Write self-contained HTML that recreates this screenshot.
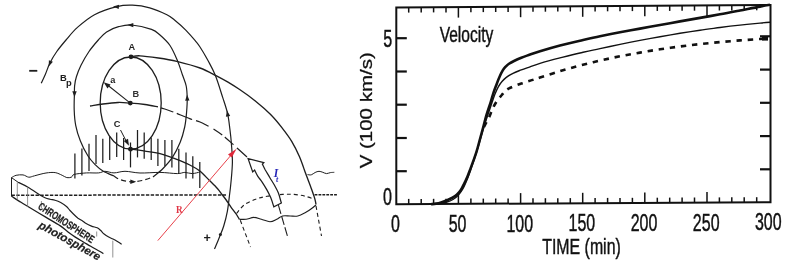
<!DOCTYPE html>
<html><head><meta charset="utf-8"><title>Figure</title>
<style>
html,body{margin:0;padding:0;background:#fff;}
body{width:785px;height:261px;overflow:hidden;}
svg{display:block;}
</style></head>
<body>
<svg width="785" height="261" viewBox="0 0 785 261">
<rect width="785" height="261" fill="#fff"/>
<path d="M214.5,249.0 C215.5,246.7 218.8,238.9 220.3,235.0 C221.9,231.1 222.6,229.6 223.8,225.7 C225.0,221.8 226.4,216.6 227.3,211.7 C228.2,206.8 228.8,201.3 229.4,196.0 C230.1,190.7 230.7,185.6 231.2,180.0 C231.7,174.4 232.3,168.2 232.4,162.4 C232.5,156.6 231.9,150.4 231.5,145.0 C231.1,139.6 230.7,135.2 230.0,130.0 C229.3,124.8 228.8,119.0 227.6,113.7 C226.4,108.4 225.1,104.8 223.0,98.4 C220.9,92.0 217.9,81.7 215.3,75.3 C212.8,68.9 210.2,64.7 207.7,60.0 C205.1,55.3 202.1,50.2 200.0,47.0 C197.9,43.8 197.5,43.5 195.2,40.7 C192.9,37.9 189.4,33.8 186.0,30.3 C182.6,26.9 177.7,22.6 174.5,20.0 C171.3,17.4 171.0,16.7 166.9,14.7 C162.8,12.7 155.4,9.4 149.7,7.8 C143.9,6.2 137.9,5.4 132.4,5.2 C126.9,5.0 123.2,5.0 116.9,6.6 C110.6,8.2 101.1,11.2 94.5,14.7 C87.9,18.2 82.0,23.4 77.2,27.6 C72.5,31.8 69.4,36.0 66.0,40.0 C62.6,44.0 59.5,47.7 56.8,51.5 C54.1,55.3 51.8,59.2 49.9,63.0 C48.0,66.8 46.8,71.1 45.3,74.5 C43.8,77.9 41.9,81.8 41.2,83.3" fill="none" stroke="#1e1e1e" stroke-width="1.20"/>
<path d="M113.0,6.4 L119.1,4.8 L118.7,9.1 Z" fill="#1e1e1e"/>
<path d="M48.7,66.5 L48.9,60.2 L52.9,61.8 Z" fill="#1e1e1e"/>
<path d="M227.0,110.5 L230.2,116.0 L225.9,116.7 Z" fill="#1e1e1e"/>
<circle cx="220.4" cy="234.4" r="1.5" fill="#1e1e1e"/>
<path d="M153.0,177.0 C154.7,175.6 159.8,171.8 163.0,168.5 C166.2,165.2 169.5,161.8 172.4,157.4 C175.3,153.0 178.2,147.1 180.3,142.0 C182.4,136.9 183.6,132.0 184.7,127.0 C185.8,122.0 186.2,116.8 186.6,112.0 C187.0,107.2 187.3,102.3 187.2,98.0 C187.1,93.7 187.0,89.9 186.2,86.0 C185.4,82.1 183.9,79.0 182.4,74.7 C180.9,70.5 179.5,65.4 177.4,60.5 C175.3,55.6 172.9,49.8 170.0,45.5 C167.1,41.2 163.1,37.7 160.0,35.0 C156.9,32.3 156.2,31.1 151.5,29.4 C146.8,27.7 137.1,25.4 131.6,25.0 C126.1,24.6 122.8,25.6 118.6,26.7 C114.4,27.8 110.0,29.7 106.6,31.9 C103.2,34.1 101.2,36.7 98.3,40.0 C95.4,43.3 91.9,47.3 89.0,51.5 C86.1,55.7 83.1,61.1 81.0,65.3 C78.9,69.5 77.5,73.3 76.4,76.8 C75.3,80.2 74.9,83.1 74.6,86.0 C74.3,88.9 74.5,90.1 74.4,94.1 C74.3,98.1 74.0,104.8 74.2,110.0 C74.4,115.2 74.7,120.2 75.7,125.3 C76.7,130.4 78.2,135.6 80.3,140.7 C82.3,145.8 85.4,151.9 88.0,156.0 C90.6,160.1 93.2,162.6 95.7,165.2 C98.2,167.8 100.2,169.5 103.3,171.3 C106.3,173.1 112.2,175.2 114.0,176.0" fill="none" stroke="#1e1e1e" stroke-width="1.20"/>
<path d="M114.0,176.0 C115.0,176.6 117.2,178.5 120.0,179.5 C122.8,180.5 127.3,181.6 131.0,181.8 C134.7,182.0 138.3,181.3 142.0,180.5 C145.7,179.7 151.2,177.6 153.0,177.0" fill="none" stroke="#1e1e1e" stroke-width="1.20" stroke-dasharray="5,3.2"/>
<path d="M127.4,24.9 L133.3,22.9 L133.3,27.2 Z" fill="#1e1e1e"/>
<path d="M74.5,97.2 L72.3,91.3 L76.7,91.3 Z" fill="#1e1e1e"/>
<path d="M187.1,94.8 L189.5,100.6 L185.1,100.8 Z" fill="#1e1e1e"/>
<path d="M136.2,181.7 L130.3,183.9 L130.3,179.5 Z" fill="#1e1e1e"/>
<ellipse cx="130.7" cy="103" rx="30.5" ry="46" fill="none" stroke="#1e1e1e" stroke-width="1.30"/>
<path d="M131.0,56.6 C132.5,56.5 135.4,55.6 140.0,55.8 C144.6,56.0 152.3,57.1 158.4,58.0 C164.5,58.9 169.9,59.7 176.8,61.4 C183.7,63.1 193.5,65.6 200.0,68.0 C206.5,70.4 211.3,73.2 216.0,75.6 C220.7,78.0 224.0,79.8 228.0,82.2 C232.0,84.6 235.4,86.7 240.0,89.8 C244.6,92.9 250.2,96.9 255.3,101.0 C260.4,105.1 266.1,110.0 270.6,114.5 C275.1,119.0 278.6,123.4 282.1,127.9 C285.6,132.4 288.8,136.5 291.7,141.3 C294.6,146.1 297.2,151.5 299.4,156.6 C301.6,161.7 303.6,167.8 305.1,172.0 C306.7,176.2 307.6,178.7 308.7,181.5 C309.8,184.3 310.7,186.8 311.5,189.0 C312.3,191.2 313.0,193.2 313.6,195.0 C314.2,196.8 314.7,198.2 315.1,199.8 C315.5,201.4 315.9,203.7 316.0,204.5" fill="none" stroke="#1e1e1e" stroke-width="1.35"/>
<path d="M90.0,106.0 C92.2,105.7 98.3,104.6 103.0,104.0 C107.7,103.4 113.5,102.7 118.0,102.5 C122.5,102.3 125.8,102.8 130.3,103.1 C134.8,103.4 140.4,103.9 145.0,104.5 C149.6,105.1 155.8,106.5 158.0,106.9" fill="none" stroke="#1e1e1e" stroke-width="1.30"/>
<path d="M158.0,106.9 C159.0,107.2 161.6,108.0 164.0,108.8 C166.4,109.6 168.1,110.1 172.4,111.7 C176.7,113.3 185.1,116.9 189.7,118.6 C194.3,120.3 197.1,120.8 200.0,122.0 C202.9,123.2 204.5,124.2 207.0,125.5 C209.5,126.8 212.0,128.1 215.0,130.0 C218.0,131.9 221.3,134.2 225.0,137.2 C228.7,140.2 233.3,144.7 237.0,148.0 C240.7,151.3 245.3,155.5 247.0,157.0" fill="none" stroke="#1e1e1e" stroke-width="1.20" stroke-dasharray="0,3.1,13.2,3.6,16.2,4.3,14,5.7,10.5,3.2,11.4,4.8,16.8,4"/>
<path d="M130.5,149.2 C132.9,149.5 140.1,150.4 145.0,151.2 C149.9,151.9 155.0,152.4 160.0,153.7 C165.0,154.9 169.8,156.8 174.8,158.7 C179.8,160.6 185.6,162.9 189.8,165.0 C194.0,167.1 196.6,168.5 199.8,171.0 C203.0,173.5 206.1,177.1 209.0,180.0 C211.9,182.9 215.2,186.0 217.4,188.5 C219.6,191.0 220.9,193.1 222.4,195.0 C223.9,196.9 224.8,198.0 226.2,200.0 C227.6,202.0 229.1,204.4 230.8,206.8 C232.5,209.2 235.1,212.4 236.5,214.5 C237.9,216.6 238.9,218.5 239.4,219.3" fill="none" stroke="#1e1e1e" stroke-width="1.35"/>
<circle cx="131.0" cy="56.8" r="2.4" fill="#1e1e1e"/>
<circle cx="130.3" cy="103.1" r="2.4" fill="#1e1e1e"/>
<circle cx="130.5" cy="149.2" r="2.4" fill="#1e1e1e"/>
<path d="M130.3,103.1 L107.5,85" fill="none" stroke="#1e1e1e" stroke-width="1.1"/>
<path d="M103.7,82.3 L110.6,84.6 L107.5,88.5 Z" fill="#1e1e1e"/>
<path d="M120.5,130 L127.2,143" fill="none" stroke="#1e1e1e" stroke-width="1.0"/>
<path d="M129.0,145.8 L123.8,141.1 L128.0,138.8 Z" fill="#1e1e1e"/>
<line x1="74.9" y1="153.6" x2="74.9" y2="178.6" stroke="#1e1e1e" stroke-width="1.25"/>
<line x1="81.9" y1="148.5" x2="81.9" y2="175.5" stroke="#1e1e1e" stroke-width="1.25"/>
<line x1="89.0" y1="143.7" x2="89.0" y2="171.0" stroke="#1e1e1e" stroke-width="1.25"/>
<line x1="96.0" y1="135.0" x2="96.0" y2="164.0" stroke="#1e1e1e" stroke-width="1.25"/>
<line x1="102.8" y1="138.7" x2="102.8" y2="163.0" stroke="#1e1e1e" stroke-width="1.25"/>
<line x1="109.7" y1="136.5" x2="109.7" y2="160.0" stroke="#1e1e1e" stroke-width="1.25"/>
<line x1="116.7" y1="132.5" x2="116.7" y2="157.0" stroke="#1e1e1e" stroke-width="1.25"/>
<line x1="123.6" y1="138.0" x2="123.6" y2="160.0" stroke="#1e1e1e" stroke-width="1.25"/>
<line x1="130.5" y1="142.5" x2="130.5" y2="167.4" stroke="#1e1e1e" stroke-width="1.25"/>
<line x1="137.5" y1="130.0" x2="137.5" y2="157.4" stroke="#1e1e1e" stroke-width="1.25"/>
<line x1="144.2" y1="132.5" x2="144.2" y2="158.7" stroke="#1e1e1e" stroke-width="1.25"/>
<line x1="151.2" y1="137.5" x2="151.2" y2="160.0" stroke="#1e1e1e" stroke-width="1.25"/>
<line x1="157.9" y1="138.7" x2="157.9" y2="166.0" stroke="#1e1e1e" stroke-width="1.25"/>
<line x1="164.9" y1="140.0" x2="164.9" y2="166.0" stroke="#1e1e1e" stroke-width="1.25"/>
<line x1="171.9" y1="140.0" x2="171.9" y2="167.4" stroke="#1e1e1e" stroke-width="1.25"/>
<line x1="178.8" y1="148.7" x2="178.8" y2="173.6" stroke="#1e1e1e" stroke-width="1.25"/>
<line x1="186.0" y1="152.4" x2="186.0" y2="178.6" stroke="#1e1e1e" stroke-width="1.25"/>
<line x1="192.8" y1="156.2" x2="192.8" y2="178.6" stroke="#1e1e1e" stroke-width="1.25"/>
<line x1="199.8" y1="162.0" x2="199.8" y2="188.0" stroke="#1e1e1e" stroke-width="1.25"/>
<path d="M11.5,177.6 C12.3,177.2 14.2,175.8 16.1,175.3 C18.0,174.9 20.9,174.6 23.0,174.9 C25.1,175.2 26.9,177.0 28.8,177.2 C30.7,177.3 31.6,176.5 34.5,175.8 C37.4,175.1 42.5,173.5 46.0,173.0 C49.5,172.5 52.5,172.2 55.2,172.6 C57.9,173.0 60.3,174.5 62.2,175.3 C64.1,176.1 65.3,177.3 66.8,177.6 C68.3,177.9 70.2,177.7 71.4,177.2 C72.6,176.7 71.7,175.1 74.2,174.4 C76.7,173.7 82.4,173.2 86.5,172.9 C90.6,172.7 95.6,173.2 98.7,172.9 C101.8,172.6 102.4,171.3 104.9,171.3 C107.5,171.3 110.7,172.9 114.0,172.9 C117.3,172.9 120.7,171.3 125.0,171.3 C129.3,171.3 134.2,172.8 140.0,173.0 C145.8,173.2 153.8,172.3 160.0,172.4 C166.2,172.5 173.2,173.6 177.3,173.6 C181.4,173.6 182.3,172.4 184.8,172.4 C187.3,172.4 189.8,173.7 192.3,173.6 C194.8,173.5 198.6,172.3 199.8,172.0" fill="none" stroke="#1e1e1e" stroke-width="1.00"/>
<path d="M307.5,174.6 C308.1,174.6 310.0,175.2 311.3,174.8 C312.6,174.5 313.8,173.1 315.1,172.5 C316.4,171.9 317.7,171.3 319.0,171.3 C320.3,171.3 321.5,171.9 322.8,172.3 C324.1,172.7 325.3,173.6 326.6,173.6 C327.9,173.6 329.1,172.8 330.4,172.6 C331.7,172.4 333.6,172.4 334.3,172.3" fill="none" stroke="#1e1e1e" stroke-width="1.00"/>
<line x1="11.5" y1="195.2" x2="226" y2="195" stroke="#1e1e1e" stroke-width="1.5" stroke-dasharray="3.4,1.4"/>
<line x1="314.6" y1="194.7" x2="337" y2="194.7" stroke="#1e1e1e" stroke-width="1.4" stroke-dasharray="2.8,1.1"/>
<path d="M236.5,213.5 C237.8,212.1 241.0,207.3 244.2,204.9 C247.4,202.5 251.9,200.6 255.7,199.2 C259.5,197.8 262.7,197.1 267.2,196.3 C271.7,195.5 278.0,194.7 282.5,194.4 C287.0,194.1 290.2,194.1 294.0,194.4 C297.8,194.7 302.1,195.5 305.5,196.3 C308.9,197.1 312.7,198.7 314.1,199.2" fill="none" stroke="#1e1e1e" stroke-width="1.10" stroke-dasharray="4,3"/>
<path d="M239.4,219.3 C240.5,219.3 243.7,219.6 246.1,219.3 C248.5,219.0 251.2,217.4 253.8,217.4 C256.4,217.4 258.7,218.6 261.4,219.3 C264.1,220.0 267.4,221.8 270.0,221.8 C272.6,221.8 274.7,220.3 276.8,219.3 C278.9,218.3 280.3,216.6 282.5,216.0 C284.7,215.4 287.6,216.0 290.2,216.0 C292.8,216.0 295.2,216.6 297.8,216.0 C300.4,215.4 303.2,213.8 305.5,212.6 C307.8,211.4 309.6,210.1 311.3,208.8 C313.1,207.5 315.2,205.6 316.0,204.9" fill="none" stroke="#1e1e1e" stroke-width="1.10"/>
<line x1="240.3" y1="220.3" x2="250.5" y2="247" stroke="#1e1e1e" stroke-width="1.1" stroke-dasharray="4,3"/>
<line x1="278.4" y1="205.2" x2="288" y2="238" stroke="#1e1e1e" stroke-width="1.1" stroke-dasharray="9,2.5"/>
<line x1="316" y1="206" x2="321.5" y2="236" stroke="#1e1e1e" stroke-width="1.1" stroke-dasharray="4,3"/>
<path d="M248.1,158.6 L263.8,162.7 L262.4,164.1 C262.9,165.1 264.1,167.7 265.3,170.0 C266.6,172.3 268.4,175.1 269.9,177.7 C271.4,180.2 273.1,182.8 274.5,185.3 C275.9,187.9 277.4,190.4 278.4,193.0 C279.4,195.6 280.2,199.0 280.7,200.7 C281.2,202.4 281.3,202.6 281.4,203.0 L273.8,206.8 C273.3,205.3 271.9,200.4 270.7,197.6 C269.5,194.8 268.3,192.4 266.9,189.9 C265.5,187.4 263.8,184.6 262.3,182.3 C260.8,180.0 259.0,178.1 257.7,176.1 C256.4,174.1 255.1,171.1 254.6,170.1 L252.7,171.9 Z" fill="#fff" stroke="#1e1e1e" stroke-width="1.25" stroke-linejoin="miter"/>
<path d="M11.5,177.6 L18.0,182.2" fill="none" stroke="#1e1e1e" stroke-width="1.00"/>
<path d="M18.0,182.2 C19.7,183.0 24.4,185.1 28.0,187.2 C31.6,189.3 36.7,193.0 39.5,194.8 C42.3,196.6 43.2,197.1 45.0,197.8 C46.8,198.6 48.3,198.9 50.0,199.3 C51.7,199.7 53.2,199.7 55.0,200.2 C56.8,200.7 58.8,201.4 60.7,202.5 C62.6,203.6 65.0,205.2 66.5,206.5 C68.0,207.8 68.8,209.2 70.0,210.5 C71.2,211.8 72.1,212.7 73.4,214.0 C74.7,215.3 76.5,217.0 78.0,218.2 C79.5,219.3 81.3,220.1 82.6,220.9 C83.9,221.7 84.2,222.3 85.7,223.2 C87.2,224.1 89.6,225.3 91.5,226.1 C93.4,226.9 95.7,227.1 97.2,227.8 C98.7,228.5 99.6,229.5 100.7,230.5 C101.8,231.5 102.8,232.9 104.1,234.0 C105.4,235.1 107.2,236.2 108.7,237.0 C110.2,237.8 111.6,238.3 113.0,239.0 C114.4,239.7 115.5,240.3 117.0,241.2 C118.5,242.1 120.9,243.8 121.7,244.3" fill="none" stroke="#1e1e1e" stroke-width="1.15"/>
<path d="M11.5,177.6 L11.5,196.5" fill="none" stroke="#1e1e1e" stroke-width="1.00"/>
<path d="M11.5,196.3 C13.1,197.3 17.9,200.4 21.0,202.3 C24.1,204.2 26.0,205.3 30.0,207.7 C34.0,210.1 40.3,213.9 45.3,216.9 C50.3,219.9 56.3,223.1 60.0,225.6 C63.7,228.1 65.2,229.8 67.7,231.7 C70.2,233.6 72.8,235.4 75.3,237.1 C77.8,238.8 80.4,240.2 83.0,241.7 C85.6,243.2 87.9,244.7 90.7,246.3 C93.5,247.9 97.9,250.3 100.0,251.5 C102.1,252.7 102.8,253.2 103.4,253.6" fill="none" stroke="#1e1e1e" stroke-width="1.30"/>
<line x1="17.3" y1="182.5" x2="17.3" y2="199.8" stroke="#777" stroke-width="0.8"/>
<line x1="27.6" y1="186.8" x2="27.6" y2="206.9" stroke="#777" stroke-width="0.8"/>
<line x1="41.4" y1="201.0" x2="41.4" y2="208.0" stroke="#777" stroke-width="0.8"/>
<line x1="96.7" y1="231.5" x2="96.7" y2="236.5" stroke="#777" stroke-width="0.8"/>
<line x1="112.8" y1="240.6" x2="112.8" y2="257.5" stroke="#777" stroke-width="0.8"/>
<line x1="157.8" y1="240.6" x2="231" y2="155.2" stroke="#e8414a" stroke-width="1.0"/>
<path d="M236.6,148.8 L228.0,154.6 L231.8,157.6 Z" fill="#e0283a"/>
<line x1="29.2" y1="70.8" x2="37.3" y2="70.8" stroke="#1e1e1e" stroke-width="1.8"/>
<text x="60.0" y="81.4" font-family="'Liberation Sans', Arial, sans-serif" font-size="9.4" fill="#1e1e1e" font-weight="bold">B</text>
<text x="66.0" y="86.0" font-family="'Liberation Sans', Arial, sans-serif" font-size="9.4" fill="#1e1e1e" font-weight="bold">p</text>
<text x="128.6" y="49.6" font-family="'Liberation Sans', Arial, sans-serif" font-size="9.2" fill="#1e1e1e" font-weight="bold">A</text>
<text x="132.6" y="96.5" font-family="'Liberation Sans', Arial, sans-serif" font-size="9.2" fill="#333" font-weight="bold">B</text>
<text x="110.3" y="82.8" font-family="'Liberation Sans', Arial, sans-serif" font-size="9.2" fill="#1e1e1e" font-weight="bold">a</text>
<text x="113.8" y="127.4" font-family="'Liberation Sans', Arial, sans-serif" font-size="9.2" fill="#1e1e1e" font-weight="bold">C</text>
<text x="203.5" y="241.6" font-family="'Liberation Sans', Arial, sans-serif" font-size="12.5" fill="#1e1e1e" font-weight="bold">+</text>
<text transform="translate(176,213.3) scale(0.86,1)" font-family="'Liberation Serif', serif" font-size="10.8" font-weight="bold" fill="#e03545">R</text>
<text x="273.7" y="176.9" font-family="'Liberation Serif', serif" font-size="11.5" fill="#2626b8" font-style="italic" font-weight="bold">I</text>
<text x="275.9" y="181.6" font-family="'Liberation Serif', serif" font-size="8.0" fill="#2626b8" font-style="italic" font-weight="bold">t</text>
<text transform="translate(37.2,208.2) rotate(33) scale(0.69,1)" font-family="'Liberation Sans', Arial, sans-serif" font-size="10.8" font-weight="bold" fill="#1e1e1e" stroke="#1e1e1e" stroke-width="0.25">CHROMOSPHERE</text>
<text transform="translate(37.8,227.4) rotate(29)" font-family="'Liberation Sans', Arial, sans-serif" font-size="11.4" font-weight="bold" font-style="italic" fill="#1e1e1e" stroke="#1e1e1e" stroke-width="0.2">photosphere</text>
<path d="M396.3,7.5 L770.5,5.0 L770.5,202.3 L396.3,204.2 Z" fill="none" stroke="#111" stroke-width="2"/>
<line x1="408.7" y1="204.1" x2="408.7" y2="198.9" stroke="#111" stroke-width="1.5"/>
<line x1="408.7" y1="7.4" x2="408.7" y2="12.6" stroke="#111" stroke-width="1.5"/>
<line x1="421.2" y1="204.1" x2="421.2" y2="198.9" stroke="#111" stroke-width="1.5"/>
<line x1="421.2" y1="7.3" x2="421.2" y2="12.5" stroke="#111" stroke-width="1.5"/>
<line x1="433.6" y1="204.0" x2="433.6" y2="198.8" stroke="#111" stroke-width="1.5"/>
<line x1="433.6" y1="7.2" x2="433.6" y2="12.4" stroke="#111" stroke-width="1.5"/>
<line x1="446.0" y1="203.9" x2="446.0" y2="198.7" stroke="#111" stroke-width="1.5"/>
<line x1="446.0" y1="7.2" x2="446.0" y2="12.4" stroke="#111" stroke-width="1.5"/>
<line x1="458.4" y1="203.9" x2="458.4" y2="193.4" stroke="#111" stroke-width="1.5"/>
<line x1="458.4" y1="7.1" x2="458.4" y2="17.6" stroke="#111" stroke-width="1.5"/>
<line x1="470.9" y1="203.8" x2="470.9" y2="198.6" stroke="#111" stroke-width="1.5"/>
<line x1="470.9" y1="7.0" x2="470.9" y2="12.2" stroke="#111" stroke-width="1.5"/>
<line x1="483.3" y1="203.8" x2="483.3" y2="198.6" stroke="#111" stroke-width="1.5"/>
<line x1="483.3" y1="6.9" x2="483.3" y2="12.1" stroke="#111" stroke-width="1.5"/>
<line x1="495.7" y1="203.7" x2="495.7" y2="198.5" stroke="#111" stroke-width="1.5"/>
<line x1="495.7" y1="6.8" x2="495.7" y2="12.0" stroke="#111" stroke-width="1.5"/>
<line x1="508.1" y1="203.6" x2="508.1" y2="198.4" stroke="#111" stroke-width="1.5"/>
<line x1="508.1" y1="6.8" x2="508.1" y2="11.9" stroke="#111" stroke-width="1.5"/>
<line x1="520.6" y1="203.6" x2="520.6" y2="193.1" stroke="#111" stroke-width="1.5"/>
<line x1="520.6" y1="6.7" x2="520.6" y2="17.2" stroke="#111" stroke-width="1.5"/>
<line x1="533.0" y1="203.5" x2="533.0" y2="198.3" stroke="#111" stroke-width="1.5"/>
<line x1="533.0" y1="6.6" x2="533.0" y2="11.8" stroke="#111" stroke-width="1.5"/>
<line x1="545.4" y1="203.4" x2="545.4" y2="198.2" stroke="#111" stroke-width="1.5"/>
<line x1="545.4" y1="6.5" x2="545.4" y2="11.7" stroke="#111" stroke-width="1.5"/>
<line x1="557.8" y1="203.4" x2="557.8" y2="198.2" stroke="#111" stroke-width="1.5"/>
<line x1="557.8" y1="6.4" x2="557.8" y2="11.6" stroke="#111" stroke-width="1.5"/>
<line x1="570.3" y1="203.3" x2="570.3" y2="198.1" stroke="#111" stroke-width="1.5"/>
<line x1="570.3" y1="6.3" x2="570.3" y2="11.5" stroke="#111" stroke-width="1.5"/>
<line x1="582.7" y1="203.2" x2="582.7" y2="192.8" stroke="#111" stroke-width="1.5"/>
<line x1="582.7" y1="6.2" x2="582.7" y2="16.8" stroke="#111" stroke-width="1.5"/>
<line x1="595.1" y1="203.2" x2="595.1" y2="198.0" stroke="#111" stroke-width="1.5"/>
<line x1="595.1" y1="6.2" x2="595.1" y2="11.4" stroke="#111" stroke-width="1.5"/>
<line x1="607.6" y1="203.1" x2="607.6" y2="197.9" stroke="#111" stroke-width="1.5"/>
<line x1="607.6" y1="6.1" x2="607.6" y2="11.3" stroke="#111" stroke-width="1.5"/>
<line x1="620.0" y1="203.1" x2="620.0" y2="197.9" stroke="#111" stroke-width="1.5"/>
<line x1="620.0" y1="6.0" x2="620.0" y2="11.2" stroke="#111" stroke-width="1.5"/>
<line x1="632.4" y1="203.0" x2="632.4" y2="197.8" stroke="#111" stroke-width="1.5"/>
<line x1="632.4" y1="5.9" x2="632.4" y2="11.1" stroke="#111" stroke-width="1.5"/>
<line x1="644.8" y1="202.9" x2="644.8" y2="192.4" stroke="#111" stroke-width="1.5"/>
<line x1="644.8" y1="5.8" x2="644.8" y2="16.3" stroke="#111" stroke-width="1.5"/>
<line x1="657.3" y1="202.9" x2="657.3" y2="197.7" stroke="#111" stroke-width="1.5"/>
<line x1="657.3" y1="5.8" x2="657.3" y2="10.9" stroke="#111" stroke-width="1.5"/>
<line x1="669.7" y1="202.8" x2="669.7" y2="197.6" stroke="#111" stroke-width="1.5"/>
<line x1="669.7" y1="5.7" x2="669.7" y2="10.9" stroke="#111" stroke-width="1.5"/>
<line x1="682.1" y1="202.7" x2="682.1" y2="197.5" stroke="#111" stroke-width="1.5"/>
<line x1="682.1" y1="5.6" x2="682.1" y2="10.8" stroke="#111" stroke-width="1.5"/>
<line x1="694.5" y1="202.7" x2="694.5" y2="197.5" stroke="#111" stroke-width="1.5"/>
<line x1="694.5" y1="5.5" x2="694.5" y2="10.7" stroke="#111" stroke-width="1.5"/>
<line x1="707.0" y1="202.6" x2="707.0" y2="192.1" stroke="#111" stroke-width="1.5"/>
<line x1="707.0" y1="5.4" x2="707.0" y2="15.9" stroke="#111" stroke-width="1.5"/>
<line x1="719.4" y1="202.6" x2="719.4" y2="197.4" stroke="#111" stroke-width="1.5"/>
<line x1="719.4" y1="5.3" x2="719.4" y2="10.5" stroke="#111" stroke-width="1.5"/>
<line x1="731.8" y1="202.5" x2="731.8" y2="197.3" stroke="#111" stroke-width="1.5"/>
<line x1="731.8" y1="5.2" x2="731.8" y2="10.4" stroke="#111" stroke-width="1.5"/>
<line x1="744.2" y1="202.4" x2="744.2" y2="197.2" stroke="#111" stroke-width="1.5"/>
<line x1="744.2" y1="5.2" x2="744.2" y2="10.4" stroke="#111" stroke-width="1.5"/>
<line x1="756.7" y1="202.4" x2="756.7" y2="197.2" stroke="#111" stroke-width="1.5"/>
<line x1="756.7" y1="5.1" x2="756.7" y2="10.3" stroke="#111" stroke-width="1.5"/>
<line x1="396.3" y1="171.2" x2="406.8" y2="171.2" stroke="#111" stroke-width="2.2"/>
<line x1="760" y1="169.3" x2="770.5" y2="169.3" stroke="#111" stroke-width="2.2"/>
<line x1="396.3" y1="138.0" x2="406.8" y2="138.0" stroke="#111" stroke-width="2.2"/>
<line x1="760" y1="136.1" x2="770.5" y2="136.1" stroke="#111" stroke-width="2.2"/>
<line x1="396.3" y1="104.7" x2="406.8" y2="104.7" stroke="#111" stroke-width="2.2"/>
<line x1="760" y1="102.8" x2="770.5" y2="102.8" stroke="#111" stroke-width="2.2"/>
<line x1="396.3" y1="71.5" x2="406.8" y2="71.5" stroke="#111" stroke-width="2.2"/>
<line x1="760" y1="69.6" x2="770.5" y2="69.6" stroke="#111" stroke-width="2.2"/>
<line x1="396.3" y1="38.2" x2="406.8" y2="38.2" stroke="#111" stroke-width="2.2"/>
<line x1="760" y1="36.3" x2="770.5" y2="36.3" stroke="#111" stroke-width="2.2"/>
<path d="M431.0,204.2 C431.8,204.1 434.3,203.9 436.0,203.6 C437.7,203.3 439.1,203.0 441.0,202.4 C442.9,201.8 445.7,200.8 447.6,200.0 C449.5,199.2 451.0,198.5 452.5,197.6 C454.0,196.7 455.5,195.8 456.8,194.6 C458.1,193.4 459.4,192.2 460.5,190.5 C461.6,188.8 462.5,186.8 463.7,184.5 C464.9,182.2 466.4,179.2 467.5,176.5 C468.6,173.8 469.1,172.4 470.6,168.4 C472.1,164.4 474.7,157.2 476.3,152.3 C477.9,147.4 478.9,143.0 480.0,139.0 C481.1,135.0 481.9,132.2 483.0,128.2 C484.1,124.2 485.2,119.3 486.5,115.0 C487.8,110.7 489.5,105.9 490.7,102.1 C491.9,98.3 492.6,95.4 493.6,92.3 C494.6,89.2 495.8,86.4 496.8,83.7 C497.8,81.0 498.8,78.5 499.8,76.3 C500.8,74.0 501.9,71.9 502.9,70.2 C503.9,68.5 505.0,67.4 506.0,66.3 C507.0,65.2 507.7,64.7 509.0,63.8 C510.3,62.9 511.9,62.0 514.0,61.0 C516.0,60.0 518.6,58.8 521.3,57.7 C524.0,56.6 526.9,55.7 530.0,54.6 C533.1,53.5 535.0,52.8 540.0,51.3 C545.0,49.8 553.3,47.4 560.0,45.6 C566.7,43.8 573.3,42.2 580.0,40.7 C586.7,39.2 593.3,37.7 600.0,36.3 C606.7,34.9 613.3,33.6 620.0,32.3 C626.7,31.0 633.3,29.8 640.0,28.6 C646.7,27.4 653.3,26.2 660.0,25.0 C666.7,23.8 673.3,22.6 680.0,21.4 C686.7,20.2 693.3,19.1 700.0,17.9 C706.7,16.7 713.3,15.5 720.0,14.3 C726.7,13.1 733.3,11.8 740.0,10.5 C746.7,9.2 755.0,7.5 760.0,6.6 C765.0,5.6 768.3,5.1 770.0,4.8" fill="none" stroke="#111" stroke-width="2.6" stroke-linejoin="round"/>
<path d="M436.0,203.8 C437.8,203.5 444.2,202.7 447.0,202.0 C449.8,201.3 451.2,200.6 453.0,199.5 C454.8,198.4 456.4,197.2 458.0,195.5 C459.6,193.8 461.1,191.9 462.5,189.5 C463.9,187.1 465.1,184.2 466.5,181.0 C467.9,177.8 469.0,174.7 470.6,170.0 C472.2,165.3 474.7,158.1 476.3,153.0 C477.9,147.9 479.1,143.7 480.3,139.5 C481.5,135.3 482.4,131.6 483.5,128.0 C484.6,124.4 485.8,121.0 486.8,118.0 C487.8,115.0 488.6,112.7 489.5,110.0 C490.4,107.3 491.3,104.8 492.2,102.1 C493.1,99.4 494.0,96.5 495.0,94.0 C496.0,91.5 497.1,88.9 498.3,86.8 C499.5,84.7 500.7,83.0 502.0,81.5 C503.3,80.0 504.2,79.0 506.0,77.6 C507.8,76.2 510.4,74.6 513.0,73.3 C515.5,72.0 518.5,71.0 521.3,69.9 C524.1,68.8 526.9,67.9 530.0,66.8 C533.1,65.7 535.0,64.8 540.0,63.3 C545.0,61.8 553.3,59.6 560.0,57.9 C566.7,56.2 573.3,54.5 580.0,53.0 C586.7,51.5 593.3,50.0 600.0,48.6 C606.7,47.2 613.3,45.8 620.0,44.4 C626.7,43.0 633.3,41.7 640.0,40.4 C646.7,39.1 653.3,37.9 660.0,36.7 C666.7,35.5 673.3,34.4 680.0,33.3 C686.7,32.2 693.3,31.2 700.0,30.2 C706.7,29.2 713.3,28.4 720.0,27.5 C726.7,26.6 733.3,25.8 740.0,25.1 C746.7,24.4 755.0,23.6 760.0,23.1 C765.0,22.6 768.3,22.4 770.0,22.3" fill="none" stroke="#111" stroke-width="1.4"/>
<path d="M484.0,127.0 C484.4,126.2 485.7,123.6 486.5,122.0 C487.3,120.4 488.1,119.3 489.0,117.5 C489.9,115.7 490.8,113.1 491.7,111.0 C492.6,108.9 493.4,106.9 494.5,105.0 C495.6,103.1 496.8,101.2 498.0,99.5 C499.2,97.8 500.6,96.4 501.8,95.0 C503.0,93.6 503.8,92.4 505.0,91.3 C506.2,90.2 507.3,89.3 509.0,88.4 C510.7,87.5 513.0,86.6 515.0,85.8 C517.0,85.0 519.1,84.3 521.3,83.6 C523.5,82.9 525.7,82.2 528.0,81.4 C530.3,80.7 533.1,79.8 535.1,79.1 C537.1,78.4 535.9,78.8 540.0,77.5 C544.1,76.2 553.3,73.2 560.0,71.2 C566.7,69.2 573.3,67.3 580.0,65.5 C586.7,63.7 593.3,62.1 600.0,60.6 C606.7,59.1 613.3,57.6 620.0,56.3 C626.7,55.0 633.3,53.8 640.0,52.6 C646.7,51.4 653.3,50.3 660.0,49.3 C666.7,48.3 673.3,47.4 680.0,46.5 C686.7,45.6 693.3,44.8 700.0,44.1 C706.7,43.4 713.3,42.7 720.0,42.1 C726.7,41.5 733.3,40.9 740.0,40.4 C746.7,39.9 755.3,39.3 760.0,39.0 C764.7,38.7 766.7,38.7 768.0,38.6" fill="none" stroke="#111" stroke-width="2.6" stroke-dasharray="5.4,5.8"/>
<rect x="762" y="36.4" width="6" height="4.2" fill="#111"/>
<text transform="translate(395.5,232.2) scale(0.690,1)" text-anchor="middle" font-family="'Liberation Sans', Arial, sans-serif" font-size="23.2" fill="#111" stroke="#111" stroke-width="0.45">0</text>
<text transform="translate(457.6,231.9) scale(0.690,1)" text-anchor="middle" font-family="'Liberation Sans', Arial, sans-serif" font-size="23.2" fill="#111" stroke="#111" stroke-width="0.45">50</text>
<text transform="translate(519.8,231.6) scale(0.690,1)" text-anchor="middle" font-family="'Liberation Sans', Arial, sans-serif" font-size="23.2" fill="#111" stroke="#111" stroke-width="0.45">100</text>
<text transform="translate(581.9,231.3) scale(0.690,1)" text-anchor="middle" font-family="'Liberation Sans', Arial, sans-serif" font-size="23.2" fill="#111" stroke="#111" stroke-width="0.45">150</text>
<text transform="translate(644.0,231.0) scale(0.690,1)" text-anchor="middle" font-family="'Liberation Sans', Arial, sans-serif" font-size="23.2" fill="#111" stroke="#111" stroke-width="0.45">200</text>
<text transform="translate(706.2,230.7) scale(0.690,1)" text-anchor="middle" font-family="'Liberation Sans', Arial, sans-serif" font-size="23.2" fill="#111" stroke="#111" stroke-width="0.45">250</text>
<text transform="translate(768.3,230.4) scale(0.690,1)" text-anchor="middle" font-family="'Liberation Sans', Arial, sans-serif" font-size="23.2" fill="#111" stroke="#111" stroke-width="0.45">300</text>
<text transform="translate(387.5,204.5) scale(0.686,1)" text-anchor="middle" font-family="'Liberation Sans', Arial, sans-serif" font-size="23.5" fill="#111" stroke="#111" stroke-width="0.45">0</text>
<text transform="translate(387.7,47.2) scale(0.686,1)" text-anchor="middle" font-family="'Liberation Sans', Arial, sans-serif" font-size="23.5" fill="#111" stroke="#111" stroke-width="0.45">5</text>
<text transform="translate(581.5,253.9) scale(0.697,1)" text-anchor="middle" font-family="'Liberation Sans', Arial, sans-serif" font-size="22.8" fill="#111" stroke="#111" stroke-width="0.45">TIME (min)</text>
<text transform="translate(466.5,42.1) scale(0.683,1)" text-anchor="middle" font-family="'Liberation Sans', Arial, sans-serif" font-size="22.8" fill="#111" stroke="#111" stroke-width="0.45">Velocity</text>
<text transform="translate(371.6,110.3) rotate(-90) scale(1,0.76)" text-anchor="middle" font-family="'Liberation Sans', Arial, sans-serif" font-size="20.5" fill="#111" stroke="#111" stroke-width="0.35">V (100 km/s)</text>
</svg>
</body></html>
